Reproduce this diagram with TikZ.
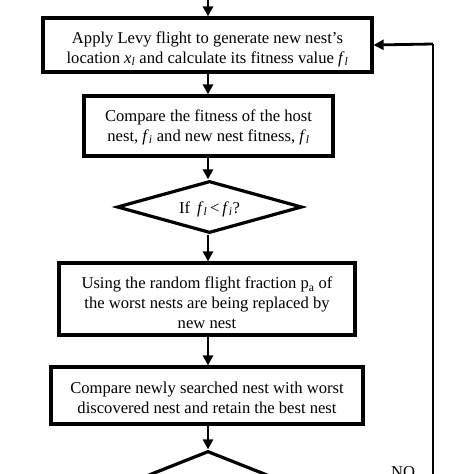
\documentclass[tikz,border=0pt]{standalone}
\usepackage{fontspec}
\setmainfont{Liberation Serif}
\usetikzlibrary{shapes.geometric,arrows.meta}
\begin{document}
\begin{tikzpicture}[x=1pt,y=-1pt,
  box/.style={draw,line width=3.2pt,inner sep=0pt},
  txt/.style={align=center,inner sep=0pt,font=\fontsize{16.6}{20}\selectfont},
  dia/.style={draw,diamond,line width=3.2pt,inner sep=0pt},
  arr/.style={line width=2.8pt,-{Triangle[length=10pt,width=10pt]}},
  fline/.style={line width=2.6pt}]
\useasboundingbox (0,0) rectangle (474,474);
\clip (0,0) rectangle (474,474);
\coordinate (top) at (208,-5);
\node[box,minimum width=329pt,minimum height=54pt] (b1) at (207.5,45) {};
\node[txt] (t1) at ([yshift=-4pt]b1.center)
  {Apply Levy flight to generate new nest’s\\location \textit{x}\textsubscript{\textit{l}} and calculate its fitness value \textit{f}\textsubscript{\textit{l}}};
\node[box,minimum width=249pt,minimum height=60pt] (b2) at (208.5,126) {};
\node[txt] (t2) at ([yshift=-1pt]b2.center)
  {Compare the fitness of the host\\nest, \textit{f}\textsubscript{\textit{i}} and new nest fitness, \textit{f}\textsubscript{\textit{l}}};
\node[dia,minimum width=185pt,minimum height=52pt] (d1) at (209.5,207) {};
\node[txt] (td1) at ([yshift=-2pt]d1.center)
  {If \,\textit{f}\textsubscript{\textit{l}}\,<\,\textit{f}\textsubscript{\textit{i}}?};
\node[box,minimum width=296pt,minimum height=72pt] (b3) at (207,299) {};
\node[txt] (t3) at ([yshift=-4pt]b3.center)
  {Using the random flight fraction p\textsubscript{a} of\\the worst nests are being replaced by\\new nest};
\node[box,minimum width=312pt,minimum height=57pt] (b4) at (207,395.5) {};
\node[txt] (t4) at ([yshift=-2pt]b4.center)
  {Compare newly searched nest with worst\\discovered nest and retain the best nest};
\node[dia,minimum width=200pt,minimum height=80pt] (d2) at (208,491) {};
\coordinate (fb) at (433,44);
\coordinate (fbot) at (433,490);
\node[font=\fontsize{16.6}{20}\selectfont,anchor=base] (no) at (403,477) {NO};
\draw[arr] (top) -- (top |- b1.north);
\draw[arr] (top |- b1.south) -- (top |- b2.north);
\draw[arr] (top |- b2.south) -- (top |- d1.north);
\draw[arr] (top |- d1.south) -- (top |- b3.north);
\draw[arr] (top |- b3.south) -- (top |- b4.north);
\draw[arr] (top |- b4.south) -- (top |- d2.north);
\draw[fline] (fbot) -- (fb);
\draw[arr] (fb) -- (b1.east);
\end{tikzpicture}
\end{document}
